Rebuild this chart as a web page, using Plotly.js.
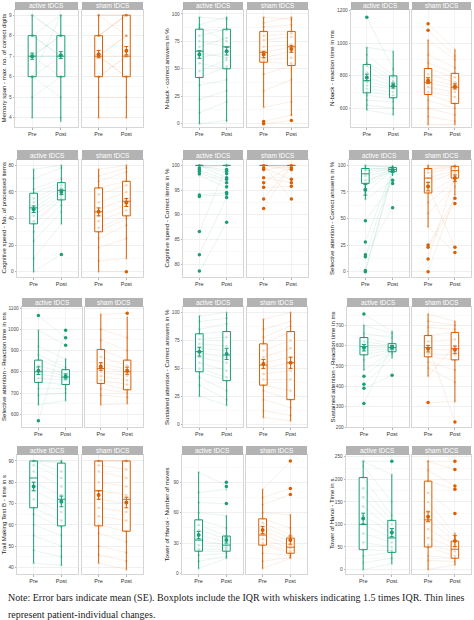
<!DOCTYPE html>
<html>
<head>
<meta charset="utf-8">
<script src="https://cdn.plot.ly/plotly-3.0.1.min.js"></script>
<style>
  body { margin: 0; background: #fff; }
  #chart { width: 474px; height: 620px; }
</style>
</head>
<body>
<div id="chart"></div>
<script>
// y axis titles of the 12 panels
var yTitles = [
    "Memory span - max. no. of correct digits",
    "N-back - correct answers in %",
    "N-back - reaction time in ms",
    "Cognitive speed - No. of processed items",
    "Cognitive speed - Correct items in %",
    "Selective attention - Correct answers in %",
    "Selective attention - Reaction time in ms",
    "Sustained attention - Correct answers in %",
    "Sustained attention - Reaction time in ms",
    "Trail Making Test B - time in s",
    "Tower of Hanoi - Number of moves",
    "Tower of Hanoi - Time in s"
];
var yRanges = [[3.55, 9.25], [-3, 103.5], [485, 1205], [-4, 84], [77.4, 101.1], [-5, 105],
               [540, 1105], [-2.5, 105], [200, 790], [36.9, 92.8], [-0.5, 117], [-10, 254]];
var yDticks = [1, 25, 200, 20, 5, 25, 100, 25, 100, 10, 30, 50];
var facets = ["active tDCS", "sham tDCS"];
var times = ["Pre", "Post"];

// individual patients: [pre values], [post values]
var memAct = [[9,8,8,7,7,7,6,6,6,5,8,9,7,6,4,7], [8,9,7,8,6,7,7,6,9,6,7,8,8,5,4,7]];
var memSham = [[9,8,7,7,6,6,8,9,7,5,6,7,8,4,7,9], [9,9,8,7,7,6,9,8,6,5,7,8,9,4,6,9]];
var nbAct = [[97,90,86,80,75,70,65,60,55,48,42,35,22,10,0,88], [95,97,85,86,70,78,60,65,50,58,52,40,30,20,3,75]];
var nbSham = [[97,92,84,80,76,70,65,60,58,56,45,30,15,2,0,88], [95,97,84,82,79,72,70,66,60,55,53,40,20,8,3,90]];
var nbRtAct = [[1160,975,930,880,860,820,790,760,740,720,700,680,650,620,590], [840,950,800,790,770,760,740,730,720,700,680,660,640,600,560]];
var nbRtSham = [[1120,1080,1020,930,880,845,810,780,760,730,700,685,650,600,550,500], [960,920,900,850,815,790,760,740,720,700,670,630,600,560,520,500]];
var csAct = [[77,70,62,59,55,52,48,45,42,38,36,30,23,10,0], [80,78,70,67,65,63,61,59,57,55,54,50,45,36,13]];
var csSham = [[77,72,68,63,58,52,47,42,38,33,30,25,18,8,0], [80,78,75,68,65,60,55,50,46,42,40,35,25,10,0]];
var csPctAct = [[100,100,100,100,100,100,99.5,99,98.5,98,94,93.8,86.5,82,78.5], [100,100,100,99,98.5,97.5,100,97,96.5,95.5,94.5,94,100,93.5,88.5]];
var csPctSham = [[100,100,100,100,100,100,100,99.5,99,97.5,96.5,95.5,93.2,91.3,100], [100,100,100,100,99.5,100,99,97.2,100,96.5,100,95.8,100,100,93.2]];
var selAct = [[100,99,97,96,95,92,90,86,83,80,74,68,48,28,16,14,1,0], [98,99,97,98,96,97,95,94,98,96,95,86,83,97,60,95,94,92]];
var selSham = [[100,99,97,96,93,88,84,80,74,65,55,42,25,23,12,0], [99,100,99,98,97,95,93,23,88,85,80,18,69,64,90,72]];
var selRtAct = [[1065,995,920,880,855,830,810,790,770,750,720,690,645,570], [960,925,860,820,810,790,780,770,760,740,720,700,665,995]];
var selRtSham = [[1070,1000,950,905,870,840,820,800,780,760,745,720,690,645], [1075,960,900,855,830,810,800,780,760,740,715,700,680,650]];
var susAct = [[97,92,85,81,76,72,68,64,60,55,50,47,42,35,25], [100,95,90,83,78,70,66,60,55,48,42,39,30,22,17]];
var susSham = [[94,85,78,72,66,60,55,50,45,40,35,30,22,12,6], [100,92,88,83,75,68,60,55,48,40,30,22,15,8,3]];
var susRtAct = [[755,700,660,640,620,600,590,575,555,530,480,450,410,390,315], [670,660,640,610,600,595,590,585,580,575,570,560,540,455,600]];
var susRtSham = [[755,720,690,650,620,600,580,560,545,520,490,450,320], [720,700,680,665,630,225,580,555,530,480,420,600,325]];
var tmtAct = [[90,90,90,90,88,85,80,76,72,68,65,60,55,48,42], [90,90,89,85,82,78,74,70,66,62,59,55,50,45,41]];
var tmtSham = [[90,90,90,88,85,80,76,72,68,64,60,56,50,46,42], [90,90,90,86,82,78,74,70,66,62,57,52,47,43,39]];
var tohAct = [[100,80,70,60,53,48,43,38,33,28,24,22,18,12,5], [87,83,69,57,45,37,34,31,28,26,24,22,20,17,15]];
var tohSham = [[83,75,68,60,54,50,46,42,38,34,30,28,20,12,5], [111,84,78,58,45,38,35,32,28,25,22,20,18,16,15]];
var tohTAct = [[240,240,230,204,180,160,140,120,100,80,60,44,30,15,0], [240,210,150,120,109,100,90,80,70,60,50,42,38,25,13]];
var tohTSham = [[240,240,220,196,170,150,130,110,90,70,55,50,30,20,0], [240,222,185,178,124,80,70,63,55,48,40,30,25,18,10]];

// boxes: [lower whisker, q1, median, q3, upper whisker] for Pre and Post
var memActBox = [[4,6,7,8,9], [3.8,6,7,8,9]];
var memShamBox = [[4,6,7,8,9], [4,6,7,9,9]];
var nbActBox = [[0,42,66,86,97], [2,50,70,86,97]];
var nbShamBox = [[15,56,65,84,97], [7,53,70,84,97]];
var nbRtActBox = [[590,695,770,870,975], [560,665,735,800,950]];
var nbRtShamBox = [[500,685,760,845,1020], [500,630,730,815,960]];
var csActBox = [[0,36,48,59,77], [36,54,61,67,80]];
var csShamBox = [[0,30,45,63,77], [10,42,53,68,80]];
var csPctActBox = [[100,100,100,100,100], [100,100,100,100,100]];
var csPctShamBox = [[100,100,100,100,100], [100,100,100,100,100]];
var selActBox = [[68,83,92,97,100], [90,94,96,98,100]];
var selShamBox = [[42,74,88,97,100], [72,88,95,99,100]];
var selRtActBox = [[645,750,800,855,995], [665,740,775,810,860]];
var selRtShamBox = [[645,745,815,905,1070], [650,715,800,855,1060]];
var susActBox = [[25,47,65,81,97], [17,39,62,83,100]];
var susShamBox = [[6,35,53,72,94], [3,22,55,83,100]];
var susRtActBox = [[480,555,595,640,700], [540,570,590,610,670]];
var susRtShamBox = [[450,545,590,650,755], [325,530,585,665,720]];
var tmtActBox = [[42,68,82,90,90], [41,59.5,72,89,90]];
var tmtShamBox = [[42,59.5,76,90,90], [39,57,72,90,90]];
var tohActBox = [[5,22,33,53,100], [15,22,28,37,57]];
var tohShamBox = [[5,28,38,54,83], [15,20,26,35,58]];
var tohTActBox = [[0,44,100,204,240], [13,38,70,109,210]];
var tohTShamBox = [[0,50,110,196,240], [10,25,45,63,80]];

// outliers Pre / Post
var memActOut = [[], []], memShamOut = [[], []];
var nbActOut = [[], []], nbShamOut = [[2,0], [3]];
var nbRtActOut = [[1160], []], nbRtShamOut = [[1080,1120], []];
var csActOut = [[], [13]], csShamOut = [[], [0]];
var csPctActOut = [[99.5,99.2,98.8,98.3,94,93.7,86.6,81.9,78.6], [99.2,98.8,98.3,97.5,97.2,96.5,95.7,94.5,94.2,93.5,88.5]];
var csPctShamOut = [[99.5,99.2,97.5,96.5,95.6,93.2,91.3], [99.5,99.2,97.2,96.5,95.8,93.2]];
var selActOut = [[48,28,16,14,1,0], [86,83,60]], selShamOut = [[25,23,12,0], [69,64,23,18]];
var selRtActOut = [[1065,570], [925,960,995]], selRtShamOut = [[], [1075]];
var susActOut = [[], []], susShamOut = [[], []];
var susRtActOut = [[755,450,410,390,315], [455]], susRtShamOut = [[320], [225]];
var tmtActOut = [[], []], tmtShamOut = [[], []];
var tohActOut = [[], [90,86,69]], tohShamOut = [[], [111,84,78]];
var tohTActOut = [[], [240]], tohTShamOut = [[], [240,222,185,178,124]];

// mean and SE: [mean, se] for Pre and Post
var memActMean = [[7.0,0.15], [7.05,0.17]], memShamMean = [[7.1,0.18], [7.27,0.2]];
var nbActMean = [[63,3.5], [66,3.5]], nbShamMean = [[63,3], [68,3]];
var nbRtActMean = [[790,20], [740,15]], nbRtShamMean = [[770,18], [735,16]];
var csActMean = [[47,2.5], [60,2]], csShamMean = [[45,3], [52,3]];
var csPctActMean = null, csPctShamMean = null;
var selActMean = [[77,5], [95,1.5]], selShamMean = [[80,4], [88,3]];
var selRtActMean = [[805,18], [778,12]], selRtShamMean = [[825,18], [805,17]];
var susActMean = [[65,4], [63,5]], susShamMean = [[54,4], [55,5]];
var susRtActMean = [[590,16], [592,9]], susRtShamMean = [[585,16], [580,18]];
var tmtActMean = [[78,2], [71,2.5]], tmtShamMean = [[74,2], [70.5,2.5]];
var tohActMean = [[38,3.5], [33,3]], tohShamMean = [[43,3.5], [33,4]];
var tohTActMean = [[113,12], [82,9]], tohTShamMean = [[117,11], [63,12]];

var panels = [
    [[memAct, memActBox, memActOut, memActMean], [memSham, memShamBox, memShamOut, memShamMean]],
    [[nbAct, nbActBox, nbActOut, nbActMean], [nbSham, nbShamBox, nbShamOut, nbShamMean]],
    [[nbRtAct, nbRtActBox, nbRtActOut, nbRtActMean], [nbRtSham, nbRtShamBox, nbRtShamOut, nbRtShamMean]],
    [[csAct, csActBox, csActOut, csActMean], [csSham, csShamBox, csShamOut, csShamMean]],
    [[csPctAct, csPctActBox, csPctActOut, csPctActMean], [csPctSham, csPctShamBox, csPctShamOut, csPctShamMean]],
    [[selAct, selActBox, selActOut, selActMean], [selSham, selShamBox, selShamOut, selShamMean]],
    [[selRtAct, selRtActBox, selRtActOut, selRtActMean], [selRtSham, selRtShamBox, selRtShamOut, selRtShamMean]],
    [[susAct, susActBox, susActOut, susActMean], [susSham, susShamBox, susShamOut, susShamMean]],
    [[susRtAct, susRtActBox, susRtActOut, susRtActMean], [susRtSham, susRtShamBox, susRtShamOut, susRtShamMean]],
    [[tmtAct, tmtActBox, tmtActOut, tmtActMean], [tmtSham, tmtShamBox, tmtShamOut, tmtShamMean]],
    [[tohAct, tohActBox, tohActOut, tohActMean], [tohSham, tohShamBox, tohShamOut, tohShamMean]],
    [[tohTAct, tohTActBox, tohTActOut, tohTActMean], [tohTSham, tohTShamBox, tohTShamOut, tohTShamMean]]
];

// layout in pixels: per panel [active x0, x1, sham x0, x1]
var W = 474, H = 620;
var panelPx = [
    [15,78,82,143], [183,243,247,308], [351,409,412,471],
    [17,78,82,143], [183,243,247,308], [349,409,412,471],
    [22,82,85,143], [183,243,247,307], [347,409,412,471],
    [17,78,82,143], [182,243,246,307], [346,409,412,471]
];
var rowPx = [[2,10,127], [150,160,277], [298,307,427], [446,455,574]];
var yTitleX = [3, 166, 331.5];
var colors = ["27,158,119", "217,95,2"];

function px(v){ return v / W; }
function py(v){ return 1 - v / H; }

var data = [], shapes = [], annotations = [];
var layout = {
    width: W, height: H,
    margin: {l: 0, r: 0, t: 0, b: 0},
    paper_bgcolor: "#ffffff", plot_bgcolor: "#ffffff",
    showlegend: false,
    font: {family: "Liberation Sans, Arial, sans-serif", color: "#4d4d4d"}
};

for(let i = 0; i < panels.length; i++){
    var row = Math.floor(i / 3), col = i % 3;
    var r = rowPx[row], c = panelPx[i];
    for(let f = 0; f < 2; f++){
        var k = i * 2 + f + 1;
        var xa = k == 1 ? "x" : "x" + k;
        var ya = k == 1 ? "y" : "y" + k;
        var x0 = c[f * 2], x1 = c[f * 2 + 1];
        var rgb = colors[f];
        var full = "rgb(" + rgb + ")";
        var set = panels[i][f];
        var lines = set[0], box = set[1], out = set[2], mean = set[3];

        layout["xaxis" + (k == 1 ? "" : k)] = {
            domain: [px(x0), px(x1)], anchor: ya,
            range: [-0.6, 1.6], tickvals: [0, 1], ticktext: times,
            showgrid: true, gridcolor: "#ebebeb", gridwidth: 0.6, zeroline: false,
            showline: true, mirror: true, linecolor: "#cccccc", linewidth: 0.8,
            ticks: "outside", ticklen: 2, tickcolor: "#b3b3b3",
            tickfont: {size: 5.5, color: "#333333"}, fixedrange: true
        };
        layout["yaxis" + (k == 1 ? "" : k)] = {
            domain: [py(r[2]), py(r[1])], anchor: xa,
            range: yRanges[i], tick0: 0, dtick: yDticks[i],
            showgrid: true, gridcolor: "#e6e6e6", gridwidth: 0.6, zeroline: false,
            minor: {tick0: 0, dtick: yDticks[i] / 2, showgrid: true, gridcolor: "#f4f4f4", gridwidth: 0.5},
            showline: true, mirror: true, linecolor: "#cccccc", linewidth: 0.8,
            ticks: f == 0 ? "outside" : "", ticklen: 1.5, tickcolor: "#b3b3b3",
            showticklabels: f == 0, tickfont: {size: 4.8, color: "#4d4d4d"}, fixedrange: true
        };

        // patient-individual lines
        var lx = [], ly = [];
        for(let p = 0; p < lines[0].length; p++){
            lx.push(0, 1, null);
            ly.push(lines[0][p], lines[1][p], null);
        }
        data.push({
            type: "scatter", mode: "lines+markers", x: lx, y: ly, xaxis: xa, yaxis: ya,
            line: {color: "rgba(" + rgb + ",0.17)", width: 0.6},
            marker: {size: 2.5, color: "rgba(" + rgb + ",0.25)"},
            hoverinfo: "skip"
        });

        // boxplot
        data.push({
            type: "box", x: [0, 1], xaxis: xa, yaxis: ya,
            lowerfence: [box[0][0], box[1][0]], q1: [box[0][1], box[1][1]],
            median: [box[0][2], box[1][2]], q3: [box[0][3], box[1][3]],
            upperfence: [box[0][4], box[1][4]],
            width: 0.28, whiskerwidth: 0, boxpoints: false,
            fillcolor: "rgba(255,255,255,0.85)", line: {color: full, width: 1}
        });

        // outliers
        var ox = [], oy = [];
        for(let t = 0; t < 2; t++){
            for(let j = 0; j < out[t].length; j++){ ox.push(t); oy.push(out[t][j]); }
        }
        data.push({
            type: "scatter", mode: "markers", x: ox, y: oy, xaxis: xa, yaxis: ya,
            marker: {size: 3.5, color: full}
        });

        // mean (SE)
        if(mean){
            data.push({
                type: "scatter", mode: "markers", x: [0, 1], y: [mean[0][0], mean[1][0]],
                xaxis: xa, yaxis: ya,
                marker: {size: 4, color: full},
                error_y: {type: "data", array: [mean[0][1], mean[1][1]], color: full, thickness: 1, width: 2}
            });
        }

        // strip
        shapes.push({
            type: "rect", xref: "paper", yref: "paper",
            x0: px(x0), x1: px(x1), y0: py(r[1]), y1: py(r[0]),
            fillcolor: "#b3b3b3", line: {width: 0}
        });
        annotations.push({
            xref: "paper", yref: "paper", x: px((x0 + x1) / 2), y: py((r[0] + r[1]) / 2),
            text: facets[f], showarrow: false, font: {size: 6.5, color: "#ffffff"},
            xanchor: "center", yanchor: "middle"
        });
    }
    // y title
    annotations.push({
        xref: "paper", yref: "paper", x: px(yTitleX[col]), y: py((r[1] + r[2]) / 2),
        text: yTitles[i], textangle: -90, showarrow: false,
        font: {size: 6.1, color: "#1a1a1a"}, xanchor: "center", yanchor: "middle"
    });
}

// note below the figure
var noteLines = [
    "Note: Error bars indicate mean (SE). Boxplots include the IQR with whiskers indicating 1.5 times IQR. Thin lines",
    "represent patient-individual changes."
];
for(let n = 0; n < noteLines.length; n++){
    annotations.push({
        xref: "paper", yref: "paper", x: px(6), y: py(598 + n * 16),
        text: noteLines[n], showarrow: false, xanchor: "left", yanchor: "middle",
        font: {family: "Liberation Serif, Times New Roman, serif", size: 10, color: "#222222"}
    });
}

layout.shapes = shapes;
layout.annotations = annotations;

Plotly.newPlot("chart", data, layout, {displayModeBar: false, staticPlot: true});
</script>
</body>
</html>
